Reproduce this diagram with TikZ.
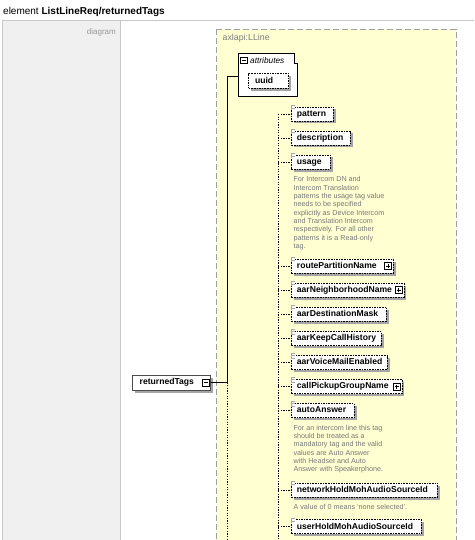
\documentclass[tikz,border=0pt]{standalone}
\usepackage{fontspec}
\setmainfont{Liberation Sans}
\usetikzlibrary{shadows}
\definecolor{ylw}{RGB}{255,255,210}
\definecolor{cellgray}{RGB}{240,240,240}
\definecolor{tblgray}{RGB}{200,200,200}
\definecolor{typegray}{RGB}{160,160,160}
\definecolor{lblgray}{RGB}{125,125,125}
\definecolor{descgray}{RGB}{120,120,120}
\definecolor{shgray}{RGB}{165,165,165}
\newcommand\xsicon[1]{%
  \fill[gray!70,shift={(#1.north west)}] (0.3,-1.8) rectangle (4.3,3.5);
  \draw[white,line width=0.4,shift={(#1.north west)}] (0.9,-0.6) -- (3.7,-0.6) (0.9,1.0) -- (3.7,1.0) (0.9,2.5) -- (3.7,2.5);}
\newcommand\xsplus[1]{%
  \draw[fill=white,line width=0.7,shift={(#1.east)}] (-9,-3.5) rectangle (-2,3.5);
  \draw[line width=0.7,shift={(#1.east)}] (-7.5,0) -- (-3.5,0) (-5.5,-2) -- (-5.5,2);}
\newcommand\xsminus[1]{%
  \draw[fill=white,line width=0.7,shift={(#1.east)}] (-9,-3.5) rectangle (-2,3.5);
  \draw[line width=0.7,shift={(#1.east)}] (-7.5,0) -- (-3.5,0);}
\begin{document}
\begin{tikzpicture}[x=1pt,y=-1pt,
  elem/.style={draw=black,line width=0.8pt,dash pattern=on 1.6pt off 1pt,fill=white,
    anchor=west,inner xsep=5.5pt,inner ysep=0pt,minimum height=14pt,align=left,
    text height=6.5pt,text depth=1.9pt,font=\bfseries\fontsize{8.6}{10}\selectfont,
    general shadow={shadow xshift=2.5pt,shadow yshift=-2.5pt,fill=shgray}},
  solidelem/.style={elem,solid,draw=black!70},
  seqline/.style={line width=0.8pt,dash pattern=on 1.3pt off 1.3pt},
  solidline/.style={line width=0.8pt},
  desc/.style={anchor=north west,inner sep=0pt,align=left,text=descgray,
    font=\fontsize{7.2}{8.3}\selectfont},
  graylbl/.style={inner sep=0pt,text=lblgray}]
\useasboundingbox (0,0) rectangle (474,540);
\clip (0,0) rectangle (474,540);
% title
\node[anchor=west,inner sep=0pt,font=\fontsize{10}{12}\selectfont] (title) at (3,12.3)
  {element \textbf{ListLineReq/returnedTags}};
% table
\draw[tblgray,fill=cellgray,line width=0.8pt] (2.5,20.5) rectangle (120.5,560);
\draw[tblgray,line width=0.8pt] (2.5,20.5) -- (474,20.5);
\node[graylbl,anchor=east,text=lblgray!80,font=\fontsize{8}{9}\selectfont] (diag) at (116,32.3) {diagram};
% complex type box
\draw[typegray,fill=ylw,line width=0.9pt,dash pattern=on 6pt off 3pt] (216.7,29) rectangle (456,580);
\node[graylbl,anchor=west,font=\fontsize{8.8}{10}\selectfont] (typelbl) at (222.5,38.3) {axlapi:LLine};
% attributes
\draw[fill=white,line width=0.8pt] (238,53) -- (294,53) -- (294,63) -- (297,63) -- (297,96.5) -- (238,96.5) -- cycle;
\draw[fill=white,line width=0.7] (240.5,57.3) rectangle (247,63.8);
\draw[line width=0.7] (241.8,60.55) -- (245.7,60.55);
\node[anchor=west,inner sep=0pt,font=\itshape\fontsize{8.3}{9}\selectfont] (attrlbl) at (250,60.8) {attributes};
\node[elem,text width=27.5pt,inner xsep=6.3pt,minimum height=15pt] (uuid) at (248.3,81) {uuid};
\coordinate (attrin) at (238,76);
% returnedTags
\node[solidelem,text width=64pt,inner xsep=7pt,minimum height=15pt] (rt) at (132.3,382.5) {returnedTags};
\xsminus{rt}
% trunk
\coordinate (trunktop) at (227,76);
\coordinate (trunkmid) at (227,382.5);
\coordinate (trunkbot) at (227,560);
\draw[solidline] (rt.east) -- (trunkmid);
\draw[solidline] (trunkmid) -- (trunktop) -- (attrin);
\draw[seqline] (trunkmid) -- (trunkbot);
\coordinate (seqtop) at (278,114);
\coordinate (seqbot) at (278,560);
\draw[seqline] (seqtop) -- (seqbot);
% children
\node[elem,text width=31pt] (c1) at (291,114) {pattern};
\node[elem,text width=48pt] (c2) at (291,138) {description};
\node[elem,text width=28pt] (c3) at (291,162) {usage};
\node[desc] (d3) at (293.3,176.5) {For Intercom DN and\\Intercom Translation\\patterns the usage tag value\\needs to be specified\\explicitly as Device Intercom\\and Translation Intercom\\respectively. For all other\\patterns it is a Read-only\\tag.};
\node[elem,text width=91pt] (c4) at (291,266) {routePartitionName};
\node[elem,text width=101.5pt] (c5) at (291,290) {aarNeighborhoodName};
\node[elem,text width=84pt] (c6) at (291,314) {aarDestinationMask};
\node[elem,text width=79pt] (c7) at (291,338.5) {aarKeepCallHistory};
\node[elem,text width=85pt] (c8) at (291,362.5) {aarVoiceMailEnabled};
\node[elem,text width=99.5pt] (c9) at (291,386.5) {callPickupGroupName};
\node[elem,text width=52pt] (c10) at (291,410.5) {autoAnswer};
\node[desc] (d10) at (293.3,424.8) {For an intercom line this tag\\should be treated as a\\mandatory tag and the valid\\values are Auto Answer\\with Headset and Auto\\Answer with Speakerphone.};
\node[elem,text width=135pt] (c11) at (291,490) {networkHoldMohAudioSourceId};
\node[desc] (d11) at (293.3,504.2) {A value of 0 means `none selected'.};
\node[elem,text width=119pt] (c12) at (291,526.7) {userHoldMohAudioSourceId};
\xsplus{c4}
\xsplus{c5}
\xsplus{c9}
\foreach \n/\y in {c1/114,c2/138,c3/162,c4/266,c5/290,c6/314,c7/338.5,c8/362.5,c9/386.5,c10/410.5,c11/490,c12/526.7}{
  \coordinate (s\n) at (278,\y);
  \draw[seqline] (s\n) -- (\n.west);
  \xsicon{\n}
}
\end{tikzpicture}
\end{document}
